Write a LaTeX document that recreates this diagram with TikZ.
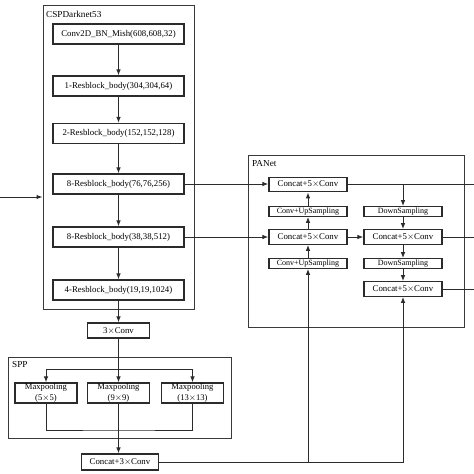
\documentclass[tikz,border=0pt]{standalone}
\usepackage{fontspec}
\setmainfont{Liberation Serif}
\usetikzlibrary{positioning, calc, arrows.meta}
\definecolor{Dark}{HTML}{2B2B2B}
\definecolor{Frame}{HTML}{3A3A3A}
\tikzset{
    block/.style={rectangle, draw=Dark, line width=1.1pt, fill=white, inner sep=0pt, align=center, font=\fontsize{8.8}{9}\selectfont, text=black},
    cspnode/.style={block, minimum width=131, minimum height=20},
    pannode/.style={block, minimum width=78, minimum height=14.5},
    samplenode/.style={block, minimum width=78, minimum height=9.5, font=\fontsize{8}{8}\selectfont},
    poolnode/.style={block, minimum width=62, minimum height=20, font=\fontsize{8.6}{10.2}\selectfont},
    group/.style={rectangle, draw=Frame, line width=1pt, inner sep=0pt},
    grouplabel/.style={anchor=west, inner sep=0pt, font=\fontsize{9.2}{9}\selectfont},
    arrow/.style={-{Latex[length=6pt, width=4.5pt]}, line width=1pt, color=Dark},
    wire/.style={line width=1pt, color=Dark},
}
\begin{document}
\begin{tikzpicture}[x=1pt, y=-1pt]
    \useasboundingbox (0,0) rectangle (474,474);

    % Contenitori
    \node[group, minimum width=151, minimum height=304] (csp) at (118.5,157) {};
    \node[grouplabel] (csplabel) at (46,14) {CSPDarknet53};
    \node[group, minimum width=223, minimum height=81] (spp) at (119.5,397.5) {};
    \node[grouplabel] (spplabel) at (12,364) {SPP};
    \node[group, minimum width=216, minimum height=172] (panet) at (356,241) {};
    \node[grouplabel] (panetlabel) at (252,164) {PANet};

    % Backbone
    \node[cspnode] (conv) at (118.5,34) {Conv2D\_BN\_Mish(608,608,32)};
    \node[cspnode] (rb1) at (118.5,86) {1-Resblock\_body(304,304,64)};
    \node[cspnode] (rb2) at (118.5,133.5) {2-Resblock\_body(152,152,128)};
    \node[cspnode] (rb8a) at (118.5,184) {8-Resblock\_body(76,76,256)};
    \node[cspnode] (rb8b) at (118.5,237) {8-Resblock\_body(38,38,512)};
    \node[cspnode] (rb4) at (118.5,290) {4-Resblock\_body(19,19,1024)};

    % SPP
    \node[block, minimum width=62, minimum height=15] (conv3) at (118.5,330.5) {3$\times$Conv};
    \node[poolnode] (mp1) at (46,393) {Maxpooling\\(5$\times$5)};
    \node[poolnode] (mp2) at (118.5,393) {Maxpooling\\(9$\times$9)};
    \node[poolnode] (mp3) at (192.5,393) {Maxpooling\\(13$\times$13)};
    \node[block, minimum width=77, minimum height=16] (cat3) at (120,462) {Concat+3$\times$Conv};

    % PANet
    \node[pannode] (catA) at (308,184.5) {Concat+5$\times$Conv};
    \node[samplenode] (upA) at (308,211.5) {Conv+UpSampling};
    \node[pannode] (catB) at (308,237) {Concat+5$\times$Conv};
    \node[samplenode] (upB) at (308,263.5) {Conv+UpSampling};
    \node[samplenode] (dnA) at (403,211.5) {DownSampling};
    \node[pannode] (catC) at (403,237) {Concat+5$\times$Conv};
    \node[samplenode] (dnB) at (403,263.5) {DownSampling};
    \node[pannode] (catD) at (403,289) {Concat+5$\times$Conv};

    % Estremi liberi
    \coordinate (in) at (0,197);
    \coordinate (outA) at (474,184.5);
    \coordinate (outC) at (474,237);
    \coordinate (outD) at (474,289);
    \coordinate (split) at (118.5,369);
    \coordinate (join) at (118.5,430);

    % Collegamenti backbone
    \draw[arrow] (in) -- (in -| csp.west);
    \draw[arrow] (conv) -- (rb1);
    \draw[arrow] (rb1) -- (rb2);
    \draw[arrow] (rb2) -- (rb8a);
    \draw[arrow] (rb8a) -- (rb8b);
    \draw[arrow] (rb8b) -- (rb4);
    \draw[arrow] (rb4) -- (conv3);

    % Collegamenti SPP
    \draw[arrow] (conv3) -- (mp2);
    \draw[arrow] (split) -| (mp1.north);
    \draw[arrow] (split) -| (mp3.north);
    \draw[wire] (mp1.south) |- (join) -| (mp3.south);
    \draw[arrow] (mp2.south) -- (mp2.south |- cat3.north);

    % Collegamenti PANet
    \draw[arrow] (rb8a.east) -- (rb8a.east -| catA.west);
    \draw[arrow] (rb8b.east) -- (rb8b.east -| catB.west);
    \draw[wire] (catA.east) -- (outA);
    \draw[arrow] (catA.east -| dnA.north) -- (dnA.north);
    \draw[arrow] (upA) -- (catA);
    \draw[arrow] (catB) -- (upA);
    \draw[arrow] (upB) -- (catB);
    \draw[arrow] (catB) -- (catC);
    \draw[arrow] (dnA) -- (catC);
    \draw[wire] (catC.east) -- (outC);
    \draw[arrow] (catC) -- (dnB);
    \draw[arrow] (dnB) -- (catD);
    \draw[wire] (catD.east) -- (outD);
    \draw[arrow] (cat3.east) -| (catD.south);
    \draw[arrow] (cat3.east -| upB.south) -- (upB.south);
\end{tikzpicture}
\end{document}
